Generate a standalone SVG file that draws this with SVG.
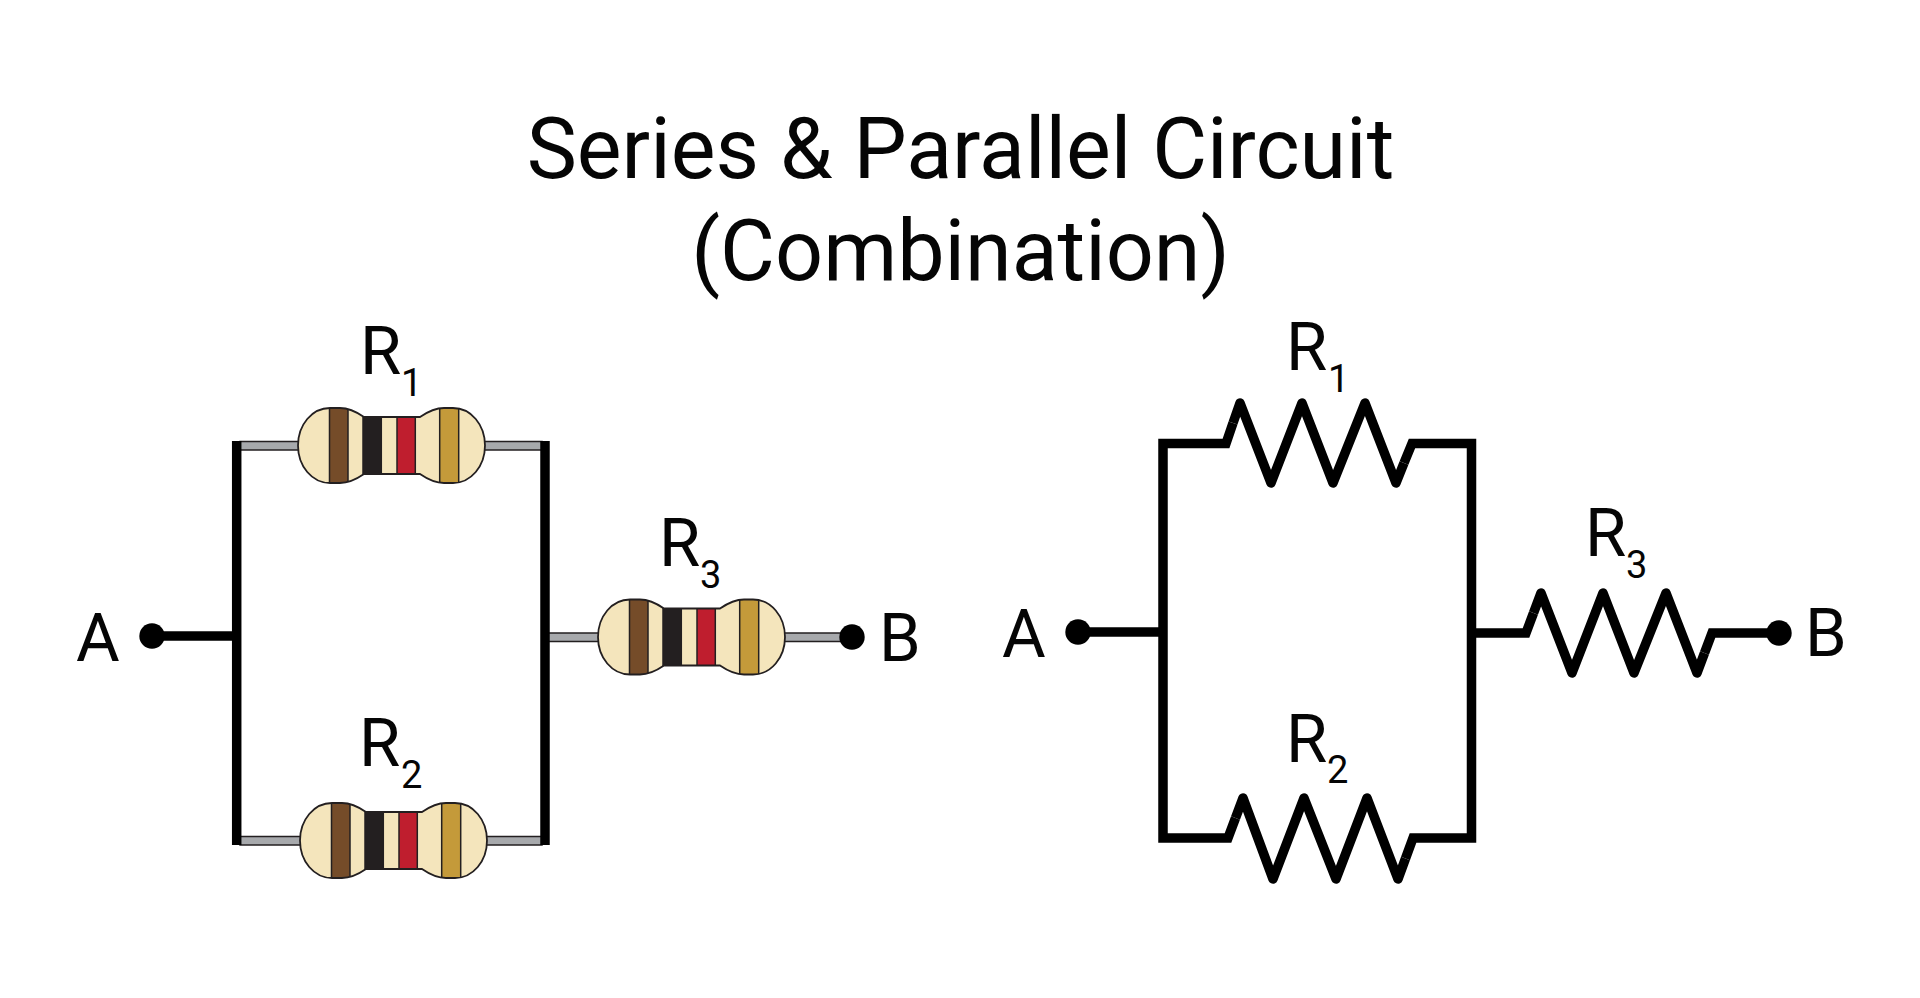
<svg xmlns="http://www.w3.org/2000/svg" width="1920" height="998" viewBox="0 0 1920 998">
<style>
text{font-family:Roboto,"Liberation Sans",sans-serif;fill:#050505}
.t{font-size:84.4px;text-anchor:middle}
.l{font-size:67px}
.s{font-size:38px}
.w{fill:none;stroke:#000;stroke-width:9.5;stroke-linejoin:miter}
.z{fill:none;stroke:#000;stroke-width:9.5;stroke-linejoin:round}
.lead{fill:#a7a9ac;stroke:#231f20;stroke-width:1.5}
.dot{fill:#000}
.edge{fill:none;stroke:#231f20;stroke-width:1.8}
</style>
<defs>
<path id="body" d="M66 -28.5C58 -34 50 -37.5 42 -37.5L32 -37.5C14 -37.5 0 -20.7 0 0C0 20.7 14 37.5 32 37.5L42 37.5C50 37.5 58 34 66 28.5L122 28.5C130 34 138 37.5 146 37.5L155 37.5C173 37.5 187 20.7 187 0C187 -20.7 173 -37.5 155 -37.5L146 -37.5C138 -37.5 130 -34 122 -28.5Z"/>
<clipPath id="bc"><use href="#body"/></clipPath>
<g id="resistor">
<use href="#body" fill="#f4e5bc"/>
<g clip-path="url(#bc)" stroke="#231f20" stroke-width="1.5">
<rect x="31.5" y="-40" width="18.5" height="80" fill="#754c29"/>
<rect x="65" y="-40" width="18.3" height="80" fill="#231f20"/>
<rect x="99" y="-40" width="18.3" height="80" fill="#bf1e2e"/>
<rect x="141.7" y="-40" width="19" height="80" fill="#c49a3a"/>
</g>
<use href="#body" class="edge"/>
</g>
</defs>
<rect width="1920" height="998" fill="#fff"/>
<g id="title">
<text class="t" x="960.5" y="178">Series &amp; Parallel Circuit</text>
<text class="t" x="960.5" y="280">(Combination)</text>
</g>
<g id="connectors">
<rect class="lead" x="240" y="441.5" width="60" height="8.5"/>
<rect class="lead" x="482" y="441.5" width="60" height="8.5"/>
<rect class="lead" x="240" y="836.5" width="62" height="8.5"/>
<rect class="lead" x="485" y="836.5" width="57" height="8.5"/>
<rect class="lead" x="548" y="633" width="52" height="8.5"/>
<rect class="lead" x="784" y="633" width="66" height="8.5"/>
<path class="w" d="M236.7 441V845"/>
<path class="w" d="M545 441V845"/>
<path class="w" d="M152 636H232"/>
<path class="w" d="M1078 632H1159"/>
<path class="w" d="M1233 423L1226 443.5H1163V838H1228L1235.5 818"/>
<path class="w" d="M1404 463L1412 443.5H1471.5V838H1413L1405.5 858.5"/>
<path class="w" d="M1476 633H1526L1533.5 613"/>
<path class="w" d="M1704.5 653L1712 633H1779"/>
</g>
<g id="left-R1"><use href="#resistor" x="298" y="445.5"/>
<text class="l" x="360" y="374">R</text><text class="s" x="401" y="396">1</text></g>
<g id="left-R2"><use href="#resistor" x="300" y="840.5"/>
<text class="l" x="359" y="766">R</text><text class="s" x="401" y="788">2</text></g>
<g id="left-R3"><use href="#resistor" x="598" y="637"/>
<text class="l" x="659" y="566">R</text><text class="s" x="700" y="588">3</text></g>
<g id="left-A"><circle class="dot" cx="152" cy="636" r="12.7"/><text class="l" x="76" y="661">A</text></g>
<g id="left-B"><circle class="dot" cx="852" cy="637" r="12.7"/><text class="l" x="879" y="661">B</text></g>
<g id="right-R1"><path class="z" d="M1233 423L1240 403L1271 483L1302 403L1333 483L1365 403L1396 483L1404 463"/>
<text class="l" x="1286" y="370">R</text><text class="s" x="1328" y="392">1</text></g>
<g id="right-R2"><path class="z" d="M1235.5 818L1243 798L1273 879L1304 798L1336 879L1367 798L1398 879L1405.5 858.5"/>
<text class="l" x="1286" y="762">R</text><text class="s" x="1327" y="783">2</text></g>
<g id="right-R3"><path class="z" d="M1533.5 613L1541 593L1572 673L1603 593L1634 673L1666 593L1697 673L1704.5 653"/>
<text class="l" x="1585" y="556">R</text><text class="s" x="1626" y="578">3</text></g>
<g id="right-A"><circle class="dot" cx="1078" cy="632" r="12.7"/><text class="l" x="1002" y="657">A</text></g>
<g id="right-B"><circle class="dot" cx="1779" cy="633" r="12.7"/><text class="l" x="1805" y="656">B</text></g>
</svg>
